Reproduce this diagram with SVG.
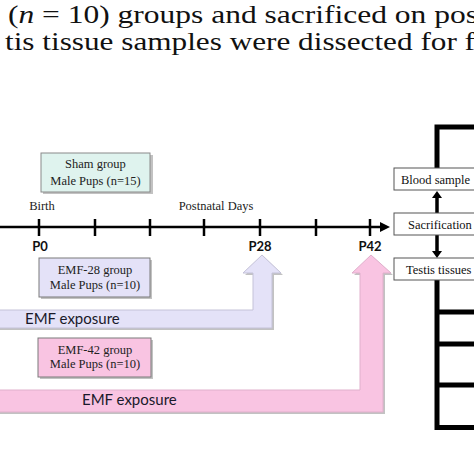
<svg xmlns="http://www.w3.org/2000/svg" width="474" height="474" viewBox="0 0 474 474">
<style>
.cap{font-family:"Liberation Serif","Times New Roman",serif;font-size:25px;fill:#111}
.ser{font-family:"Liberation Serif","Times New Roman",serif;font-size:12.5px;fill:#222}
.box{font-family:"Liberation Serif","Times New Roman",serif;font-size:12.5px;fill:#111}
.pl{font-family:Lato,"Liberation Sans",sans-serif;font-size:13px;font-weight:bold;fill:#111}
.ex{font-family:Lato,"Liberation Sans",sans-serif;font-size:15px;fill:#1a1a2a}
.sh{fill:#9a9a9a;opacity:0.6}
.blk{stroke:#000;fill:none}
</style>
<rect width="474" height="474" fill="#fff"/>
<text class="cap" x="8" y="23" textLength="470" lengthAdjust="spacingAndGlyphs">(<tspan font-style="italic">n</tspan> = 10) groups and sacrificed on pos</text>
<text class="cap" x="5" y="50" textLength="470" lengthAdjust="spacingAndGlyphs">tis tissue samples were dissected for f</text>

<g id="emf42-arrow">
<polygon class="sh" points="0,392 362,392 362,275 354,275 373,257 393,275 385,275 385,414 0,414"/>
<polygon points="-2,390 360,390 360,273 352,273 371,255 391,273 383,273 383,412 -2,412" fill="#f9c4e2" stroke="#e0b0cc" stroke-width="1"/>
<text class="ex" x="82" y="405">EMF exposure</text>
</g>
<g id="emf28-arrow">
<polygon class="sh" points="0,312 255,312 255,275 245,275 264,257 283,275 274,275 274,330 0,330"/>
<polygon points="-2,310 253,310 253,273 243,273 262,255 281,273 272,273 272,328 -2,328" fill="#e4e2f8" stroke="#c4c2d8" stroke-width="1"/>
<text class="ex" x="25" y="324">EMF exposure</text>
</g>

<g id="sham">
<rect class="sh" x="43" y="155" width="110" height="39"/>
<rect x="41" y="153" width="109" height="39" fill="#dff3ee" stroke="#8a8a8a" stroke-width="1"/>
<text class="ser" x="95.5" y="168" text-anchor="middle">Sham group</text>
<text class="ser" x="95.5" y="185" text-anchor="middle">Male  Pups (n=15)</text>
</g>
<g id="emf28">
<rect class="sh" x="41" y="260" width="111" height="39"/>
<rect x="39" y="258" width="111" height="39" fill="#e4e2f8" stroke="#7a7a7a" stroke-width="1"/>
<text class="ser" x="95" y="274" text-anchor="middle">EMF-28  group</text>
<text class="ser" x="95" y="289" text-anchor="middle">Male  Pups (n=10)</text>
</g>
<g id="emf42">
<rect class="sh" x="40" y="340" width="113" height="39"/>
<rect x="38" y="338" width="113" height="39" fill="#f9c4e2" stroke="#7a7a7a" stroke-width="1"/>
<text class="ser" x="95" y="354" text-anchor="middle">EMF-42  group</text>
<text class="ser" x="95" y="368" text-anchor="middle">Male  Pups (n=10)</text>
</g>

<g id="timeline">
<line class="blk" x1="0" y1="227" x2="383" y2="227" stroke-width="2.5"/>
<polygon points="380,222 390,227 380,232" fill="#000"/>
<g class="blk" stroke-width="2.5">
<line x1="39" y1="219" x2="39" y2="236"/>
<line x1="95" y1="219" x2="95" y2="236"/>
<line x1="150" y1="219" x2="150" y2="236"/>
<line x1="204" y1="219" x2="204" y2="236"/>
<line x1="260" y1="219" x2="260" y2="236"/>
<line x1="316" y1="219" x2="316" y2="236"/>
<line x1="370" y1="219" x2="370" y2="236"/>
</g>
<text class="ser" x="42" y="210" text-anchor="middle">Birth</text>
<text class="ser" x="216" y="210" text-anchor="middle">Postnatal Days</text>
<text class="pl" x="40" y="251" text-anchor="middle">P0</text>
<text class="pl" x="260" y="251" text-anchor="middle">P28</text>
<text class="pl" x="370" y="251" text-anchor="middle">P42</text>
</g>

<g id="connectors">
<polyline class="blk" points="437,168 437,127 476,127" stroke-width="5"/>
<line class="blk" x1="437" y1="196" x2="437" y2="213" stroke-width="3.5"/>
<polygon points="432,198 437,191 442,198" fill="#000"/>
<line class="blk" x1="437" y1="235" x2="437" y2="252" stroke-width="3.5"/>
<polygon points="432,251 437,258 442,251" fill="#000"/>
<line class="blk" x1="437" y1="280" x2="437" y2="430" stroke-width="5"/>
<g class="blk" stroke-width="5">
<line x1="437" y1="312" x2="476" y2="312"/>
<line x1="437" y1="344" x2="476" y2="344"/>
<line x1="437" y1="385" x2="476" y2="385"/>
<line x1="435" y1="427.5" x2="476" y2="427.5"/>
</g>
</g>

<g id="blood">
<rect x="394" y="168" width="90" height="22" fill="#fff" stroke="#555" stroke-width="1"/>
<text class="box" x="401" y="184">Blood sample</text>
</g>
<g id="sacrification">
<rect x="394" y="213" width="90" height="22" fill="#fff" stroke="#555" stroke-width="1"/>
<text class="box" x="408" y="229">Sacrification</text>
</g>
<g id="testis">
<rect x="394" y="258" width="90" height="22" fill="#fff" stroke="#555" stroke-width="1"/>
<text class="box" x="406" y="274">Testis tissues</text>
</g>
</svg>
